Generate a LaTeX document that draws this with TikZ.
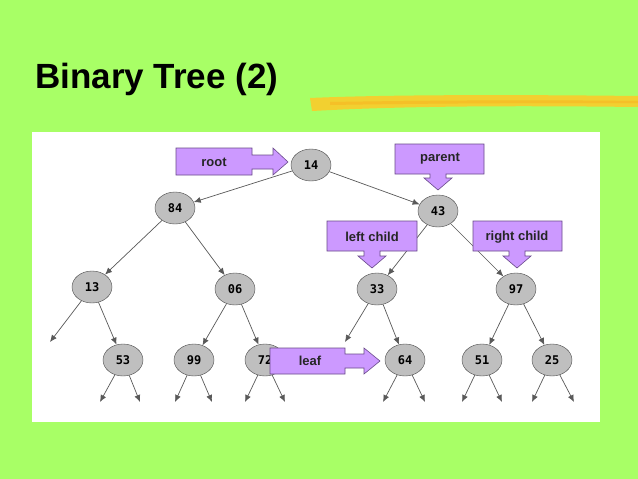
\documentclass[tikz,border=0pt]{standalone}
\usepackage{fontspec}
\setmainfont{Liberation Sans}
\newfontfamily\monof{DejaVu Sans Mono}
\usetikzlibrary{arrows.meta,shapes.geometric}
\definecolor{bg}{HTML}{A8FF66}
\definecolor{callf}{HTML}{CC99FF}
\definecolor{calld}{HTML}{6A4A8A}
\definecolor{gold}{HTML}{F2D030}
\begin{document}
\begin{tikzpicture}[x=1pt,y=-1pt,
  tn/.style={ellipse,draw=black!70,fill=black!25,minimum width=40pt,minimum height=32pt,inner sep=0pt,font=\monof\bfseries\fontsize{12}{12}\selectfont},
  ed/.style={draw=black!65,line width=0.7pt,-{Latex[length=7pt,width=6pt]}},
  callout/.style={fill=callf,draw=calld,line width=0.6pt},
  ctext/.style={font=\bfseries\fontsize{13}{13}\selectfont,text=black!85}]
\fill[bg] (0,0) rectangle (638,479);
\useasboundingbox (0,0) rectangle (638,479);
\fill[white] (32,132) rectangle (600,422);
\node[anchor=base west,font=\bfseries\fontsize{35}{35}\selectfont,inner sep=0pt] (title) at (35,88) {Binary Tree (2)};
\fill[gold] (310,98) .. controls (400,94) and (550,95) .. (638,96) -- (638,107) .. controls (550,106) and (420,105) .. (312,111) -- cycle;
\fill[gold!80!orange] (330,102) .. controls (450,100) and (560,100) .. (638,101) -- (638,103) .. controls (560,103) and (450,103) .. (330,105) -- cycle;
% nodes
\node[tn] (n14) at (311,165) {14};
\node[tn] (n84) at (175,208) {84};
\node[tn] (n43) at (438,211) {43};
\node[tn] (n13) at (92,287) {13};
\node[tn] (n06) at (235,289) {06};
\node[tn] (n33) at (377,289) {33};
\node[tn] (n97) at (516,289) {97};
\node[tn] (n53) at (123,360) {53};
\node[tn] (n99) at (194,360) {99};
\node[tn] (n72) at (265,360) {72};
\node[tn] (n64) at (405,360) {64};
\node[tn] (n51) at (482,360) {51};
\node[tn] (n25) at (552,360) {25};
\foreach \n/\x/\y in {a/50/342,b/345/342,c1/100/402,c2/140/402,d1/175/402,d2/212/402,e1/245/402,e2/285/402,f1/383/402,f2/425/402,g1/462/402,g2/502/402,h1/532/402,h2/574/402}
  \coordinate (\n) at (\x,\y);
\draw[ed] (n14) -- (n84);
\draw[ed] (n14) -- (n43);
\draw[ed] (n84) -- (n13);
\draw[ed] (n84) -- (n06);
\draw[ed] (n43) -- (n33);
\draw[ed] (n43) -- (n97);
\draw[ed] (n13) -- (a);
\draw[ed] (n13) -- (n53);
\draw[ed] (n06) -- (n99);
\draw[ed] (n06) -- (n72);
\draw[ed] (n33) -- (b);
\draw[ed] (n33) -- (n64);
\draw[ed] (n97) -- (n51);
\draw[ed] (n97) -- (n25);
\draw[ed] (n53) -- (c1); \draw[ed] (n53) -- (c2);
\draw[ed] (n99) -- (d1); \draw[ed] (n99) -- (d2);
\draw[ed] (n72) -- (e1); \draw[ed] (n72) -- (e2);
\draw[ed] (n64) -- (f1); \draw[ed] (n64) -- (f2);
\draw[ed] (n51) -- (g1); \draw[ed] (n51) -- (g2);
\draw[ed] (n25) -- (h1); \draw[ed] (n25) -- (h2);
% callouts
\draw[callout] (176,148) -- (252,148) -- (252,155) -- (273,155) -- (273,148) -- (288,162) -- (273,175) -- (273,169) -- (252,169) -- (252,175) -- (176,175) -- cycle;
\node[ctext] (lroot) at (214,162) {root};
\draw[callout] (395,144) -- (484,144) -- (484,174) -- (446,174) -- (446,178) -- (452,178) -- (438,190) -- (424,178) -- (430,178) -- (430,174) -- (395,174) -- cycle;
\node[ctext] (lpar) at (440,159) {parent};
\draw[callout] (327,221) -- (417,221) -- (417,251) -- (380,251) -- (380,256) -- (386,256) -- (372,268) -- (358,256) -- (364,256) -- (364,251) -- (327,251) -- cycle;
\node[ctext] (llc) at (372,237) {left child};
\draw[callout] (473,221) -- (562,221) -- (562,251) -- (525,251) -- (525,256) -- (531,256) -- (517,268) -- (503,256) -- (509,256) -- (509,251) -- (473,251) -- cycle;
\node[ctext] (lrc) at (517,237) {right child};
\draw[callout] (270,348) -- (345,348) -- (345,354) -- (364,354) -- (364,348) -- (380,361) -- (364,374) -- (364,368) -- (345,368) -- (345,374) -- (270,374) -- cycle;
\node[ctext] (lleaf) at (310,361) {leaf};
\end{tikzpicture}
\end{document}
